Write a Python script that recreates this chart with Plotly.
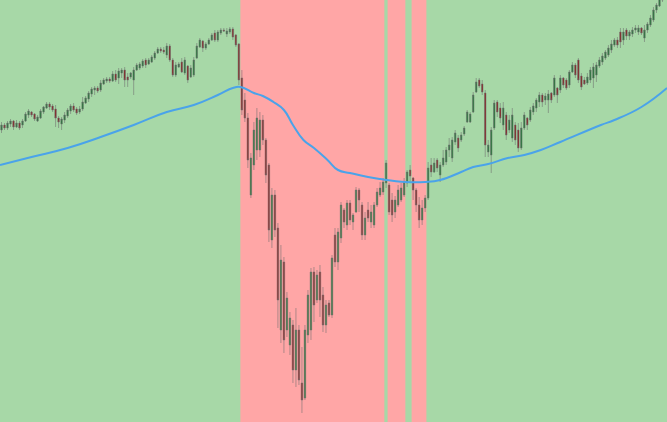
import plotly.graph_objects as go

# 蜡烛图数据（按序号排列）
opens = [370, 375, 372, 376, 379, 373, 377, 375, 379, 385, 388, 386, 379, 382, 388, 392, 396, 394, 391, 382,
         376, 380, 384, 389, 394, 391, 388, 391, 397, 401, 406, 410, 412, 410, 416, 419, 421, 419, 426, 422,
         427, 430, 423, 423, 420, 430, 432, 434, 440, 436, 438, 442, 447, 451, 450, 445, 454, 440, 425, 433,
         438, 427, 434, 423, 425, 442, 453, 459, 452, 456, 460, 467, 460, 467, 470, 466, 468, 471, 465, 456,
         422, 400, 382, 305, 335, 350, 350, 380, 360, 335, 260, 305, 272, 170, 238, 170, 155, 175, 130, 170,
         117, 102, 165, 170, 228, 200, 228, 205, 175, 197, 185, 265, 238, 262, 290, 275, 297, 278, 288, 310,
         295, 265, 290, 278, 275, 295, 305, 308, 317, 315, 300, 288, 295, 300, 305, 317, 330, 322, 310, 295,
         280, 292, 302, 335, 328, 340, 325, 335, 338, 350, 342, 358, 362, 360, 366, 378, 378, 388, 408, 420,
         416, 407, 348, 345, 372, 398, 392, 375, 385, 370, 362, 375, 370, 352, 372, 382, 380, 388, 392, 398,
         405, 400, 400, 407, 405, 412, 410, 422, 420, 415, 428, 435, 440, 424, 420, 417, 420, 422, 425, 434,
         438, 442, 445, 450, 455, 460, 468, 460, 470, 464, 466, 470, 468, 472, 462, 470, 475, 480, 490, 494,
         500, 506]
highs = [378, 377, 379, 381, 380, 380, 379, 381, 388, 391, 389, 387, 385, 391, 394, 398, 398, 396, 395, 384,
         383, 388, 392, 396, 397, 393, 394, 403, 404, 409, 413, 414, 414, 420, 422, 423, 423, 429, 430, 432,
         432, 433, 427, 428, 433, 437, 438, 441, 442, 442, 445, 449, 453, 453, 453, 457, 456, 442, 438, 438,
         442, 443, 435, 435, 443, 457, 462, 460, 458, 462, 467, 470, 470, 472, 472, 472, 473, 473, 466, 457,
         430, 407, 387, 347, 378, 392, 388, 385, 362, 337, 312, 310, 277, 255, 243, 208, 188, 180, 192, 175,
         153, 175, 210, 232, 233, 230, 235, 213, 200, 200, 245, 272, 272, 298, 292, 300, 300, 287, 313, 312,
         298, 288, 298, 295, 298, 312, 318, 322, 340, 317, 307, 304, 315, 317, 322, 330, 335, 323, 312, 303,
         300, 305, 338, 342, 342, 342, 338, 350, 353, 362, 363, 370, 365, 368, 374, 390, 388, 408, 422, 422,
         420, 410, 360, 373, 400, 400, 397, 398, 388, 385, 392, 378, 377, 378, 388, 383, 393, 397, 402, 408,
         407, 407, 410, 408, 425, 413, 425, 423, 422, 430, 438, 437, 442, 427, 423, 427, 433, 437, 438, 443,
         447, 450, 455, 460, 462, 463, 472, 472, 472, 470, 473, 475, 475, 473, 475, 478, 485, 493, 497, 505,
         510, 516]
lows = [367, 370, 370, 373, 370, 372, 370, 372, 378, 382, 383, 379, 378, 381, 386, 391, 390, 388, 373, 372,
        370, 377, 382, 386, 388, 385, 386, 389, 396, 398, 403, 405, 407, 408, 415, 417, 417, 418, 418, 416,
        422, 413, 413, 421, 405, 429, 430, 432, 432, 435, 437, 440, 446, 447, 446, 442, 438, 423, 423, 432,
        427, 425, 417, 422, 423, 441, 452, 448, 450, 455, 459, 458, 458, 465, 468, 463, 466, 460, 453, 415,
        385, 378, 332, 302, 330, 340, 343, 355, 317, 258, 252, 263, 172, 157, 147, 163, 145, 117, 113, 115,
        87, 100, 157, 160, 178, 197, 183, 168, 167, 183, 182, 233, 230, 257, 272, 270, 275, 270, 287, 288,
        260, 260, 278, 272, 272, 293, 303, 305, 312, 285, 278, 282, 293, 298, 303, 313, 317, 300, 288, 272,
        275, 288, 300, 323, 327, 328, 318, 333, 335, 343, 338, 355, 348, 358, 364, 377, 377, 387, 407, 412,
        405, 343, 343, 327, 370, 383, 377, 370, 360, 367, 358, 355, 348, 350, 370, 370, 378, 385, 388, 393,
        393, 395, 387, 397, 403, 397, 407, 412, 410, 412, 427, 422, 417, 410, 415, 415, 417, 412, 418, 432,
        435, 440, 443, 447, 453, 452, 452, 455, 460, 460, 463, 467, 465, 465, 458, 467, 473, 478, 487, 493,
        498, 504]
closes = [375, 372, 377, 379, 373, 377, 372, 379, 386, 389, 385, 381, 383, 389, 393, 396, 393, 390, 382, 378,
          381, 385, 390, 394, 390, 387, 391, 398, 402, 407, 411, 412, 409, 417, 420, 421, 419, 426, 420, 429,
          430, 420, 420, 427, 430, 435, 436, 439, 435, 440, 443, 447, 451, 449, 448, 454, 440, 425, 435, 436,
          428, 440, 420, 432, 440, 454, 460, 452, 456, 460, 465, 460, 468, 470, 469, 469, 471, 463, 455, 420,
          390, 382, 340, 342, 370, 382, 380, 360, 325, 270, 305, 270, 200, 240, 160, 202, 182, 130, 170, 120,
          100, 170, 205, 228, 195, 225, 200, 175, 195, 185, 242, 238, 268, 295, 278, 297, 280, 285, 310, 300,
          265, 282, 282, 288, 295, 308, 312, 318, 337, 288, 285, 300, 310, 312, 318, 328, 324, 310, 295, 280,
          292, 302, 332, 328, 337, 332, 335, 342, 350, 355, 360, 367, 352, 365, 372, 388, 386, 405, 418, 414,
          408, 355, 355, 370, 397, 388, 382, 392, 365, 380, 385, 360, 352, 372, 385, 375, 390, 394, 400, 405,
          398, 404, 406, 400, 422, 405, 422, 415, 412, 428, 435, 425, 420, 413, 416, 423, 430, 433, 435, 440,
          444, 448, 452, 456, 460, 455, 458, 468, 464, 468, 470, 472, 472, 467, 470, 476, 482, 490, 495, 502,
          508, 514]
idx = list(range(len(closes)))

# 均线（长期均线）读数
ma_idx = [-0.5, 10, 22, 33, 44, 55, 64, 72, 77, 79.5, 84, 87, 90.5, 94, 97, 100.5, 104, 108.5, 112, 116,
          122, 126, 134.5, 141, 146, 153, 157, 162, 168.5, 174, 179.5, 186, 199.5, 204, 213, 221.5]
ma_val = [335, 343, 352, 363, 375, 388, 395, 405, 412, 413, 407, 404, 398, 390, 375, 360, 352, 340, 330, 327,
          323, 321, 318, 318, 320, 328, 333, 336, 342, 345, 350, 358, 375, 380, 393, 412]

# 多空区间：起始序号 + 状态
regime_start = [0, 80, 128, 129, 135, 137, 142]
regime_state = ["up", "down", "up", "down", "up", "down", "up"]

GREEN_BG = "#a7d8a7"
RED_BG = "#ffa6a6"

fig = go.Figure()

# 背景色块
ends = regime_start[1:] + [len(closes)]
for s, e, st in zip(regime_start, ends, regime_state):
    fig.add_vrect(x0=s - 0.5, x1=e - 0.5,
                  fillcolor=GREEN_BG if st == "up" else RED_BG,
                  opacity=1, line_width=0, layer="below")

# K线：灰色影线 + 深绿/深红实体
fig.add_trace(go.Candlestick(
    x=idx, open=opens, high=highs, low=lows, close=closes,
    increasing=dict(line=dict(color="rgba(110,110,110,0.55)", width=1), fillcolor="#237a38"),
    decreasing=dict(line=dict(color="rgba(110,110,110,0.55)", width=1), fillcolor="#8a1f1f"),
    whiskerwidth=0,
    showlegend=False,
))

fig.add_trace(go.Scatter(
    x=ma_idx, y=ma_val, mode="lines",
    line=dict(color="#4aa3ea", width=2, shape="spline", smoothing=1.3),
    showlegend=False,
))

fig.update_xaxes(range=[-0.5, len(closes) - 0.5], visible=False,
                 rangeslider_visible=False, showgrid=False)
fig.update_yaxes(range=[78, 500], visible=False, showgrid=False)

fig.update_layout(
    width=667, height=422,
    margin=dict(l=0, r=0, t=0, b=0),
    plot_bgcolor=GREEN_BG,
    paper_bgcolor=GREEN_BG,
)

# 去掉页面默认边距，让图铺满窗口
fig.write_html("out.html", config={"displayModeBar": False},
               post_script="document.body.style.margin='0';")
